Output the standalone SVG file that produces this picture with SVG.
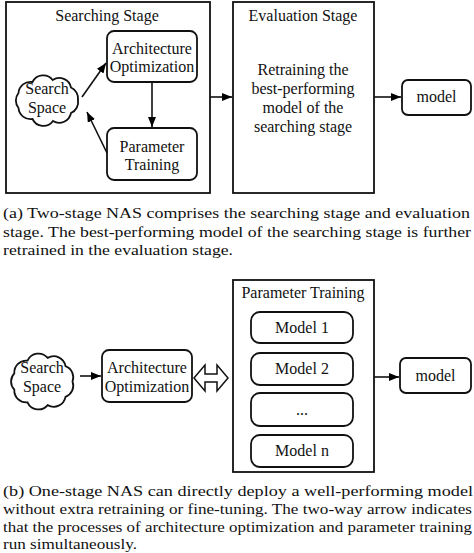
<svg xmlns="http://www.w3.org/2000/svg" width="474" height="553" viewBox="0 0 474 553">
<defs>
<marker id="ah" viewBox="0 0 10 8" refX="10" refY="4" markerWidth="10" markerHeight="8" markerUnits="userSpaceOnUse" orient="auto">
<path d="M0,0 L10,4 L0,8 Z" fill="#000"/>
</marker>
<style>
.box{fill:#fff;stroke:#111;stroke-width:1.8}
.t{font-size:16px;fill:#111;text-anchor:middle}
.cap{font-size:15.5px;fill:#111}
.ln{stroke:#111;stroke-width:1.6;fill:none;marker-end:url(#ah)}
</style>
</defs>
<rect width="474" height="553" fill="#fff"/>
<g font-family="Liberation Serif, DejaVu Serif, serif">
<g id="searching-stage">
<rect class="box" x="6" y="2" width="204" height="191"/>
<text class="t" x="107" y="21">Searching Stage</text>
</g>
<g id="search-space-a">
<path class="box" d="M78,100 A12,12 0 0 1 71,113 A12,12 0 0 1 53,121 A12,12 0 0 1 32.5,119 A12,12 0 0 1 18.5,108 A12,12 0 0 1 18.5,93 A12,12 0 0 1 32.5,82 A12,12 0 0 1 52.7,80 A12,12 0 0 1 71,87.5 A12,12 0 0 1 78,100 Z"/>
<text class="t" x="47" y="94">Search</text>
<text class="t" x="47" y="113">Space</text>
</g>
<g id="arch-opt-a">
<rect class="box" x="107" y="31" width="90" height="51" rx="7"/>
<text class="t" x="152" y="54">Architecture</text>
<text class="t" x="152" y="72">Optimization</text>
</g>
<g id="param-train-a">
<rect class="box" x="107" y="128" width="90" height="52" rx="7"/>
<text class="t" x="152" y="152">Parameter</text>
<text class="t" x="152" y="170">Training</text>
</g>
<g id="evaluation-stage">
<rect class="box" x="233" y="2" width="141" height="191"/>
<text class="t" x="303" y="21">Evaluation Stage</text>
<text class="t" x="303" y="75">Retraining the</text>
<text class="t" x="303" y="94">best-performing</text>
<text class="t" x="303" y="113">model of the</text>
<text class="t" x="303" y="132">searching stage</text>
</g>
<g id="model-a">
<rect class="box" x="402" y="80" width="69" height="35" rx="6"/>
<text class="t" x="436.5" y="102">model</text>
</g>

<g id="search-space-b">
<path class="box" d="M72.5,381.5 A12,12 0 0 1 65.5,396.9 A12,12 0 0 1 47.7,405.1 A12,12 0 0 1 27.5,402.3 A12,12 0 0 1 14.3,389.7 A12,12 0 0 1 14.3,373.3 A12,12 0 0 1 27.5,360.7 A12,12 0 0 1 47.7,357.9 A12,12 0 0 1 65.5,366.1 A12,12 0 0 1 72.5,381.5 Z"/>
<text class="t" x="42" y="373">Search</text>
<text class="t" x="42" y="392">Space</text>
</g>
<g id="arch-opt-b">
<rect class="box" x="102" y="350" width="90" height="52" rx="7"/>
<text class="t" x="147" y="373">Architecture</text>
<text class="t" x="147" y="392">Optimization</text>
</g>
<g id="param-train-b">
<rect class="box" x="233" y="280" width="141" height="192"/>
<text class="t" x="303" y="298">Parameter Training</text>
</g>
<g id="model-1">
<rect class="box" x="251" y="312" width="102" height="31" rx="9"/>
<text class="t" x="302" y="333">Model 1</text>
</g>
<g id="model-2">
<rect class="box" x="251" y="353" width="102" height="32" rx="9"/>
<text class="t" x="302" y="374">Model 2</text>
</g>
<g id="model-dots">
<rect class="box" x="251" y="393" width="102" height="33" rx="9"/>
<text class="t" x="302" y="415">...</text>
</g>
<g id="model-n">
<rect class="box" x="251" y="435" width="102" height="32" rx="9"/>
<text class="t" x="302" y="456">Model n</text>
</g>
<g id="model-b">
<rect class="box" x="400" y="358" width="71" height="35" rx="6"/>
<text class="t" x="435.5" y="381">model</text>
</g>

<g id="connectors">
<line class="ln" x1="82" y1="97" x2="106" y2="63"/>
<line class="ln" x1="152" y1="82" x2="152" y2="127"/>
<line class="ln" x1="107" y1="153" x2="87" y2="112"/>
<line class="ln" x1="210" y1="97" x2="232" y2="97"/>
<line class="ln" x1="374" y1="97" x2="401" y2="97"/>
<line class="ln" x1="80" y1="376" x2="101" y2="376"/>
<line class="ln" x1="374" y1="377" x2="399" y2="377"/>
<polygon points="194,378 205,365 205,374 217,374 217,365 228,378 217,391 217,382 205,382 205,391" fill="#fff" stroke="#111" stroke-width="1.5" stroke-linejoin="miter"/>
</g>

<g id="caption-a">
<text class="cap" x="3" y="218" textLength="467" lengthAdjust="spacingAndGlyphs">(a) Two-stage NAS comprises the searching stage and evaluation</text>
<text class="cap" x="3" y="236.5" textLength="468" lengthAdjust="spacingAndGlyphs">stage. The best-performing model of the searching stage is further</text>
<text class="cap" x="3" y="254.5" textLength="230" lengthAdjust="spacingAndGlyphs">retrained in the evaluation stage.</text>
</g>
<g id="caption-b">
<text class="cap" x="3" y="496" textLength="470" lengthAdjust="spacingAndGlyphs">(b) One-stage NAS can directly deploy a well-performing model</text>
<text class="cap" x="3" y="514" textLength="469" lengthAdjust="spacingAndGlyphs">without extra retraining or fine-tuning. The two-way arrow indicates</text>
<text class="cap" x="3" y="532" textLength="469" lengthAdjust="spacingAndGlyphs">that the processes of architecture optimization and parameter training</text>
<text class="cap" x="3" y="549" textLength="134" lengthAdjust="spacingAndGlyphs">run simultaneously.</text>
</g>
</g>
</svg>
